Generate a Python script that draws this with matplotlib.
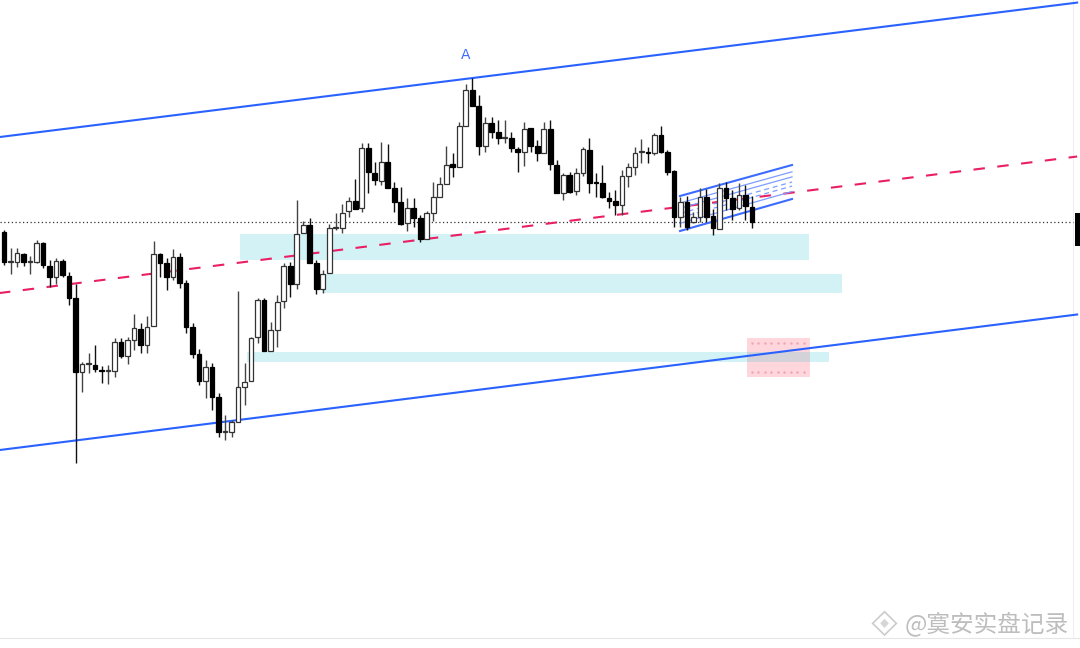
import numpy as np
import matplotlib.pyplot as plt
from matplotlib.patches import Rectangle

plt.rcParams['font.family'] = ['Noto Sans CJK SC', 'DejaVu Sans']

# OHLC (arbitrary price units)
opens = [768, 738, 738, 746, 738, 738, 757, 734, 723, 739,
         724, 702, 628, 636, 635, 630, 629, 629, 658, 644,
         660, 671, 655, 674, 746, 737, 723, 743, 717, 673,
         646, 619, 633, 603, 568, 568, 578, 613, 619, 663,
         700, 649, 670, 699, 734, 716, 767, 775, 737, 711,
         727, 772, 772, 789, 799, 792, 852, 827, 819, 838,
         812, 798, 777, 792, 782, 761, 787, 803, 816, 836,
         833, 874, 910, 894, 854, 877, 868, 862, 862, 851,
         848, 872, 854, 847, 871, 835, 807, 825, 809, 827,
         850, 818, 817, 802, 799, 795, 824, 833, 848, 848,
         847, 865, 848, 829, 783, 798, 778, 783, 803, 784,
         771, 812, 802, 792, 805, 793]
highs = [770, 752, 752, 747, 744, 760, 758, 740, 742, 741,
         728, 716, 638, 647, 655, 634, 635, 662, 662, 663,
         686, 677, 684, 759, 747, 742, 751, 747, 720, 677,
         651, 640, 637, 607, 585, 580, 709, 637, 663, 702,
         702, 678, 705, 737, 738, 800, 779, 782, 740, 730,
         776, 787, 796, 803, 821, 857, 857, 838, 858, 856,
         818, 813, 802, 802, 785, 789, 818, 823, 854, 847,
         878, 916, 922, 905, 883, 883, 880, 880, 868, 853,
         878, 872, 860, 878, 880, 840, 827, 828, 832, 853,
         862, 827, 835, 808, 810, 830, 837, 853, 861, 853,
         867, 874, 850, 830, 803, 804, 788, 812, 811, 791,
         817, 818, 810, 817, 815, 804]
lows = [735, 726, 733, 734, 726, 737, 732, 713, 716, 723,
        695, 537, 608, 627, 628, 617, 616, 623, 642, 636,
        650, 647, 647, 674, 723, 710, 720, 712, 667, 642,
        615, 602, 590, 563, 560, 563, 578, 595, 619, 657,
        649, 649, 653, 692, 703, 711, 767, 737, 706, 707,
        727, 770, 767, 783, 791, 788, 807, 815, 815, 812,
        788, 775, 769, 773, 758, 761, 779, 803, 816, 823,
        833, 874, 894, 845, 848, 862, 856, 857, 848, 828,
        834, 848, 839, 847, 830, 807, 800, 807, 805, 824,
        807, 803, 802, 792, 785, 785, 813, 825, 837, 837,
        845, 847, 825, 773, 773, 770, 777, 778, 778, 765,
        771, 790, 780, 790, 780, 772]
closes = [738, 739, 747, 738, 738, 757, 735, 723, 739, 725,
          702, 628, 636, 637, 631, 629, 629, 658, 644, 660,
          672, 655, 673, 746, 737, 723, 743, 717, 673, 646,
          619, 633, 603, 568, 568, 578, 613, 618, 662, 700,
          649, 670, 698, 734, 716, 766, 775, 737, 711, 726,
          772, 772, 787, 799, 791, 852, 828, 820, 838, 812,
          798, 776, 792, 782, 761, 787, 803, 816, 835, 833,
          874, 910, 894, 854, 877, 868, 862, 862, 852, 848,
          871, 854, 847, 871, 836, 807, 825, 808, 827, 851,
          817, 817, 803, 799, 795, 824, 833, 847, 848, 847,
          865, 848, 828, 783, 798, 773, 783, 803, 783, 772,
          812, 802, 791, 805, 794, 778]

# drawing objects (candle index, price)
chan_x = [-1, 165]
chan_upper = [862.7, 997.4]
chan_lower = [549.7, 685.5]
chan_mid = [706.7, 843.5]

small_x = [103.94, 121.16]
small_top = [804, 835]
small_bottom = [769, 801]
small_levels = [0, 0.2, 0.35, 0.5, 0.62, 0.78, 1]

# zones: (x0, x1, price_low, price_high)
zones = [(36.3, 123.8, 740, 766),
         (48.9, 128.8, 707, 726),
         (37.4, 126.8, 638, 648)]
pink_box = (114.2, 123.9, 623, 662)

last_price = closes[-1]

fig = plt.figure(figsize=(10.8, 6.48), dpi=100)
ax = fig.add_axes([0, 0, 1, 1])
ax.set_xlim(-0.615, 165.44)
ax.set_ylim(352, 1000)
ax.axis('off')

# zones
for x0, x1, lo, hi in zones:
    ax.add_patch(Rectangle((x0, lo), x1 - x0, hi - lo, facecolor='#d3f2f5',
                           edgecolor='none', zorder=1))
px0, px1, plo, phi = pink_box
ax.add_patch(Rectangle((px0, plo), px1 - px0, phi - plo, facecolor='#ffd6dc',
                       edgecolor='none', zorder=1.2))
zx0, zx1, zlo, zhi = zones[2]
ox0, ox1 = max(px0, zx0), min(px1, zx1)
olo, ohi = max(plo, zlo), min(phi, zhi)
ax.add_patch(Rectangle((ox0, olo), ox1 - ox0, ohi - olo, facecolor='#d2d2d8',
                       edgecolor='none', zorder=1.3))
# dots inside the pink box
dx = np.arange(px0 + 0.8, px1, 1.0)
for yy in [plo + 5, phi - 5]:
    ax.scatter(dx, np.full(len(dx), yy), s=0.6, color='#f0a5b2', zorder=1.4)

# last price dotted line
ax.axhline(last_price, xmin=0, xmax=0.9935, color='#333333', lw=0.9,
           linestyle=(0, (1, 2)), zorder=2)

# channel
ax.plot(chan_x, chan_upper, color='#2962ff', lw=1.5, zorder=3)
ax.plot(chan_x, chan_lower, color='#2962ff', lw=1.5, zorder=3)
ax.plot(chan_x, chan_mid, color='#e91e63', lw=1.5, linestyle=(0, (5.5, 6)), zorder=3)

# small channel
for f in small_levels:
    ys = [small_top[k] + (small_bottom[k] - small_top[k]) * f for k in range(2)]
    if f in (0, 1):
        ax.plot(small_x, ys, color='#3c6cff', lw=1.5, zorder=4)
    elif f in (0.5, 0.62):
        ax.plot(small_x, ys, color='#7d9dff', lw=0.9, linestyle=(0, (4, 3)), zorder=4)
    else:
        ax.plot(small_x, ys, color='#7d9dff', lw=0.9, zorder=4)

# candles
idx = np.arange(len(opens))
o = np.array(opens)
c = np.array(closes)
h = np.array(highs)
l = np.array(lows)
up = c >= o
ax.vlines(idx[up], l[up], h[up], color='#444444', lw=1.0, zorder=5)
ax.vlines(idx[~up], l[~up], h[~up], color='#111111', lw=1.0, zorder=5)
body_lo = np.minimum(o, c)
body_h = np.maximum(np.abs(c - o), 0.8)
ax.bar(idx[up], body_h[up], bottom=body_lo[up], width=0.72, color='white',
       edgecolor='#333333', linewidth=0.9, zorder=6)
ax.bar(idx[~up], body_h[~up], bottom=body_lo[~up], width=0.72, color='black',
       edgecolor='black', linewidth=0.9, zorder=6)

# label A at the top
ax.text(71.0, 945, 'A', color='#3d6bff', fontsize=10, ha='center', va='center',
        family=['DejaVu Sans'], zorder=7)

# frame lines and price marker
ax.axhline(362, color='#e6e6e6', lw=0.8, zorder=0)
ax.plot([164.36, 164.36], [362, 1000], color='#eeeeee', lw=0.8, zorder=0)
ax.add_patch(Rectangle((164.67, 754), 2, 33, facecolor='black', edgecolor='none',
                       clip_on=False, zorder=7))

# watermark
fig.text(0.838, 0.038, '@寞安实盘记录', color='#bdbdbd', fontsize=17,
         ha='left', va='center')
lx, ly = 0.819, 0.038
fig.patches.append(plt.Polygon([[lx - 0.011, ly], [lx, ly + 0.018], [lx + 0.011, ly],
                                [lx, ly - 0.018]], closed=True, fill=False,
                               edgecolor='#cccccc', lw=1.2, transform=fig.transFigure))
fig.patches.append(plt.Polygon([[lx - 0.004, ly], [lx, ly + 0.007], [lx + 0.004, ly],
                                [lx, ly - 0.007]], closed=True, facecolor='#d5d5d5',
                               edgecolor='none', transform=fig.transFigure))

fig.savefig('out.png', dpi=100, facecolor='white')
